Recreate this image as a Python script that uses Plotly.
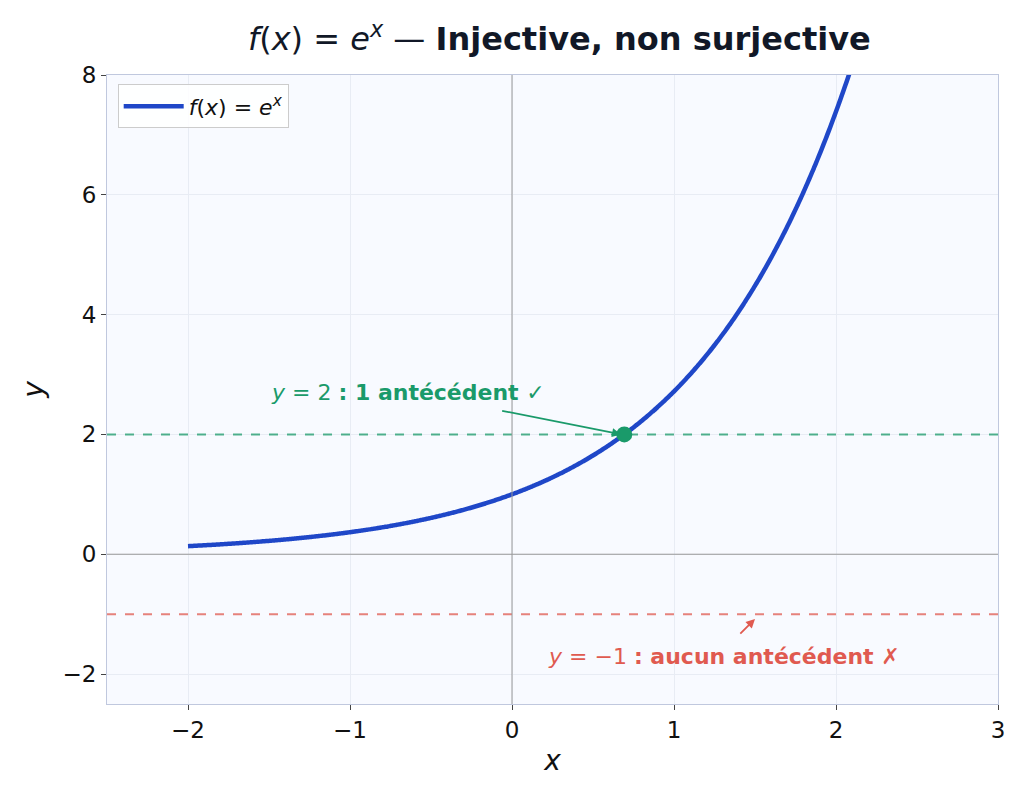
import numpy as np
import plotly.graph_objects as go

# courbe f(x) = e^x sur [-2, 2.1]
x_courbe = np.linspace(-2, 2.1, 400)
y_courbe = np.exp(x_courbe)

point_x = [np.log(2)]
point_y = [2]
niveaux = [2, -1]
couleurs_niveaux = ["#1a9a6a", "#e05a50"]

x_ticks = [-2, -1, 0, 1, 2, 3]
y_ticks = [-2, 0, 2, 4, 6, 8]

fig = go.Figure()

fig.add_trace(go.Scatter(
    x=x_courbe, y=y_courbe, mode="lines",
    line=dict(color="#1f47c8", width=4.5, shape="spline"),
    name="<i>f</i>(<i>x</i>) = <i>e</i><sup><i>x</i></sup>",
))
fig.add_trace(go.Scatter(
    x=point_x, y=point_y, mode="markers",
    marker=dict(color="#1a9a6a", size=16), showlegend=False,
))

for niv, c in zip(niveaux, couleurs_niveaux):
    fig.add_hline(y=niv, line=dict(color=c, width=2, dash="dash"), opacity=0.75)

fig.add_hline(y=0, line=dict(color="#999999", width=1))
fig.add_vline(x=0, line=dict(color="#999999", width=1))

fig.add_annotation(
    x=point_x[0] - 0.02, y=2.0, ax=-0.07, ay=2.4, xref="x", yref="y", axref="x", ayref="y",
    text="", showarrow=True, arrowhead=2, arrowsize=1, arrowwidth=1.8, arrowcolor="#1a9a6a",
)
fig.add_annotation(
    x=-0.64, y=2.7, xref="x", yref="y", showarrow=False,
    text="<i>y</i> = 2 <b>: 1 antécédent ✓</b>",
    font=dict(size=22, color="#1a9a6a"),
)
fig.add_annotation(
    x=1.5, y=-1.08, ax=1.4, ay=-1.35, xref="x", yref="y", axref="x", ayref="y",
    text="", showarrow=True, arrowhead=2, arrowsize=1, arrowwidth=1.8, arrowcolor="#e05a50",
)
fig.add_annotation(
    x=1.31, y=-1.7, xref="x", yref="y", showarrow=False,
    text="<i>y</i> = −1 <b>: aucun antécédent ✗</b>",
    font=dict(size=22, color="#e05a50"),
)

fig.update_layout(
    width=1021, height=796,
    paper_bgcolor="white", plot_bgcolor="#f8faff",
    font=dict(family="DejaVu Sans", size=23, color="#111111"),
    title=dict(
        text="<i>f</i>(<i>x</i>) = <i>e</i><sup><i>x</i></sup> — <b>Injective, non surjective</b>",
        x=0.54, xanchor="center", y=0.975, font=dict(size=32, color="#111827"),
    ),
    margin=dict(l=99, r=31, t=67, b=100),
    legend=dict(
        x=0.012, y=0.985, xanchor="left", yanchor="top",
        bgcolor="rgba(255,255,255,0.85)", bordercolor="#cccccc", borderwidth=1,
        font=dict(size=22), itemwidth=60,
    ),
)
fig.update_xaxes(
    range=[-2.5, 3], tickvals=x_ticks, ticktext=[str(t).replace("-", "−") for t in x_ticks],
    title=dict(text="<i>x</i>", standoff=8), showgrid=True, gridcolor="#e8ecf4", zeroline=False,
    showline=True, linecolor="#c0c8de", mirror=True, ticks="outside", tickcolor="#444",
)
fig.update_yaxes(
    range=[-2.5, 8], tickvals=y_ticks, ticktext=[str(t).replace("-", "−") for t in y_ticks],
    title=dict(text="<i>y</i>", standoff=10), showgrid=True, gridcolor="#e8ecf4", zeroline=False,
    showline=True, linecolor="#c0c8de", mirror=True, ticks="outside", tickcolor="#444",
)

fig.write_html("out.html")
